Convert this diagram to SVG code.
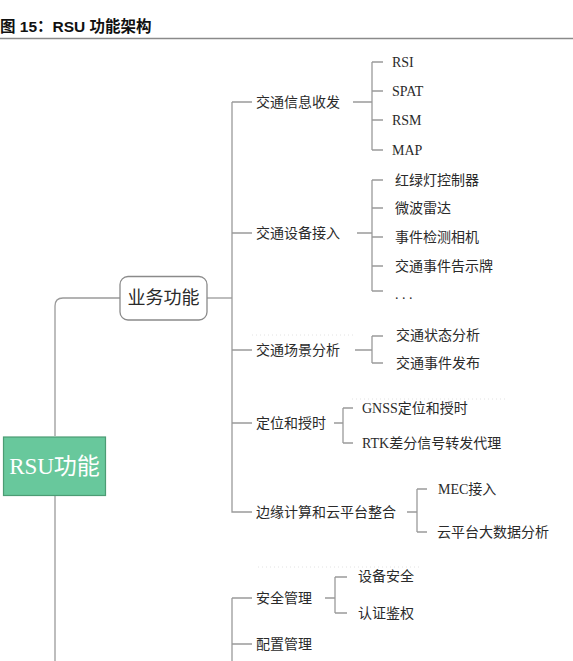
<svg xmlns="http://www.w3.org/2000/svg" width="573" height="661" viewBox="0 0 573 661">
<style>
.t{font-family:"Liberation Serif","Noto Sans CJK SC",serif;font-size:14px;fill:#2a2a2a;dominant-baseline:central}
.c{fill:none;stroke:#9a9a9a;stroke-width:1.3}
.d{fill:none;stroke:#e2e2e2;stroke-width:1;stroke-dasharray:1 3}
</style>
<rect width="573" height="661" fill="#fff"/>
<text x="0" y="31.5" style="font-family:'Liberation Sans','Noto Sans CJK SC',sans-serif;font-size:15.5px;font-weight:bold" fill="#111">图 15：RSU 功能架构</text>
<line x1="0" y1="38.5" x2="573" y2="38.5" stroke="#8a8a8a" stroke-width="1.6"/>
<g id="connectors">
<path class="c" d="M55,436 V306 Q55,298 63,298 H120"/>
<path class="c" d="M55,496 V661"/>
<path class="c" d="M207,298 H232"/>
<path class="c" d="M232,102 V512 H252 M232,102 H252 M232,233 H252 M232,350 H252 M232,423 H252"/>
<path class="c" d="M353,102 H372 M372,62 V150 M372,62 H383 M372,91 H383 M372,120 H383 M372,150 H383"/>
<path class="c" d="M357,233 H372 M372,180 V291 M372,180 H383 M372,208 H383 M372,237 H383 M372,266 H383 M372,291 H383"/>
<path class="c" d="M355,350 H372 M372,336 V363 M372,336 H383 M372,363 H383"/>
<path class="c" d="M334,423 H343 M343,408 V443 M343,408 H353 M343,443 H353"/>
<path class="c" d="M407,512 H417 M417,489 V532 M417,489 H427 M417,532 H427"/>
<path class="c" d="M232,598 V661 M232,598 H252 M232,644 H252"/>
<path class="c" d="M325,598 H335 M335,577 V613 M335,577 H347 M335,613 H347"/>
<path class="d" d="M252,335 H355 M352,399 H505 M258,567 H420"/>
</g>
<g id="root">
<rect x="3.5" y="437" width="102" height="58.5" fill="#68c89c" stroke="#4c9c74" stroke-width="1.2"/>
<text x="54.5" y="466" text-anchor="middle" style="font-family:'Liberation Serif','Noto Sans CJK SC',serif;font-size:23px;dominant-baseline:central" fill="#fff">RSU功能</text>
</g>
<g id="business">
<rect x="120" y="276.5" width="87" height="43.5" rx="8" fill="#fff" stroke="#8a8a8a" stroke-width="1.3"/>
<text x="163.5" y="298" text-anchor="middle" class="t" style="font-size:18px">业务功能</text>
</g>
<g id="l2-1"><text class="t" x="256" y="102">交通信息收发</text></g>
<g id="l3-rsi"><text class="t" x="392" y="62">RSI</text></g>
<g id="l3-spat"><text class="t" x="392" y="91">SPAT</text></g>
<g id="l3-rsm"><text class="t" x="392" y="120">RSM</text></g>
<g id="l3-map"><text class="t" x="392" y="150">MAP</text></g>
<g id="l2-2"><text class="t" x="256" y="233">交通设备接入</text></g>
<g id="l3-a"><text class="t" x="395" y="180">红绿灯控制器</text></g>
<g id="l3-b"><text class="t" x="395" y="208">微波雷达</text></g>
<g id="l3-c"><text class="t" x="395" y="237">事件检测相机</text></g>
<g id="l3-d"><text class="t" x="395" y="266">交通事件告示牌</text></g>
<g id="l3-e"><text class="t" x="395" y="294">. . .</text></g>
<g id="l2-3"><text class="t" x="256" y="350">交通场景分析</text></g>
<g id="l3-f"><text class="t" x="396" y="335">交通状态分析</text></g>
<g id="l3-g"><text class="t" x="396" y="363">交通事件发布</text></g>
<g id="l2-4"><text class="t" x="256" y="423">定位和授时</text></g>
<g id="l3-h"><text class="t" x="362" y="408">GNSS定位和授时</text></g>
<g id="l3-i"><text class="t" x="362" y="443">RTK差分信号转发代理</text></g>
<g id="l2-5"><text class="t" x="256" y="512">边缘计算和云平台整合</text></g>
<g id="l3-j"><text class="t" x="438" y="489">MEC接入</text></g>
<g id="l3-k"><text class="t" x="437" y="532">云平台大数据分析</text></g>
<g id="l2-6"><text class="t" x="256" y="598">安全管理</text></g>
<g id="l3-l"><text class="t" x="358" y="576">设备安全</text></g>
<g id="l3-m"><text class="t" x="358" y="613">认证鉴权</text></g>
<g id="l2-7"><text class="t" x="256" y="644">配置管理</text></g>
</svg>
